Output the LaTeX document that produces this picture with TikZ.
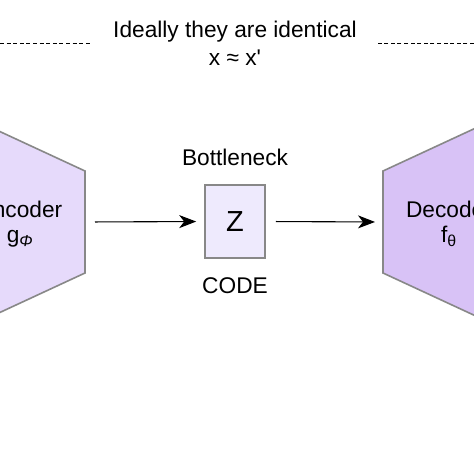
\documentclass[tikz,border=0pt]{standalone}
\usepackage{fontspec}
\setmainfont{Liberation Sans}
\usetikzlibrary{arrows.meta}
\definecolor{encfill}{HTML}{E6DAFB}
\definecolor{decfill}{HTML}{D8C2F6}
\definecolor{codefill}{HTML}{EEEAFD}
\definecolor{edge}{HTML}{888888}
\def\piece#1{-- ++(0,102) -- ++(#1*110,51) -- ++(0,-204) -- cycle}
\def\lblfont{\fontsize{22.7}{27}\selectfont}
\tikzset{blk/.style={draw=edge,line width=1.6pt},
  lbl/.style={font=\lblfont,inner sep=0pt,anchor=base},
  flow/.style={line width=1.1pt,-{Stealth[length=17pt,width=13pt,inset=5pt]},shorten >=8pt,shorten <=10pt}}

\begin{document}
\begin{tikzpicture}[x=1pt,y=-1pt]
                \useasboundingbox (0,0) rectangle (474,474);
                \clip (0,0) rectangle (474,474);
                \fill[white] (0,0) rectangle (474,474);
                \draw[blk,fill=encfill] (85,171) \piece{-1};
                \draw[blk,fill=decfill] (383,171) \piece{1};
                \coordinate (encE) at (85,222);
                \coordinate (decW) at (383,222);
                \node[blk,fill=codefill,minimum width=60pt,minimum height=73pt,inner sep=0pt,font=\fontsize{29}{34}\selectfont] (code) at (235,221.5) {Z};
                \node[lbl] (neck) at (235,165) {Bottleneck};
                \node[lbl] (codelbl) at (235,293) {CODE};
                \node[font=\lblfont,align=center,inner sep=0pt] (enc) at (20,224) {Encoder\\[-2pt]g\textsubscript{\itshape Φ}};
                \node[font=\lblfont,align=center,inner sep=0pt] (dec) at (449,224) {Decoder\\[-2pt]f\textsubscript{θ}};
                \draw[flow] (encE) -- (code.west);
                \draw[flow] (code.east) -- (decW);
                \node[lbl] (ideal) at (235,37) {Ideally they are identical};
                \node[lbl] (approx) at (235,65) {x ≈ x\textquotesingle};
                \coordinate (dl) at (0,43);
                \coordinate (dr) at (474,43);
                \draw[line width=0.9pt,dash pattern=on 4pt off 2.6pt] (dl) -- ++(92,0);
                \draw[line width=0.9pt,dash pattern=on 4pt off 2.6pt] (dr) -- ++(-96,0);
            \end{tikzpicture}
\end{document}
